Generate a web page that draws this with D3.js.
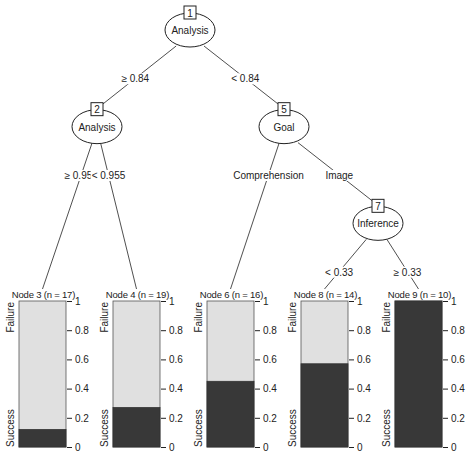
<!DOCTYPE html>
<html><head><meta charset="utf-8">
<script src="https://cdn.jsdelivr.net/npm/d3@7"></script>
<style>body{margin:0;background:#fff}text{font-family:"Liberation Sans",Arial,sans-serif;fill:#222}</style>
</head><body><svg id="c" width="474" height="454"></svg>
<script>
// inner nodes
var innerIds = [1, 2, 5, 7];
var innerVars = ["Analysis", "Analysis", "Goal", "Inference"];
var innerX = [190, 97, 284, 378];
var innerLevel = [0, 1, 1, 2];
// leaves
var leafIds = [3, 4, 6, 8, 9];
var leafN = [17, 19, 16, 14, 10];
var leafSuccess = [0.12, 0.27, 0.45, 0.57, 1.0];
var leafLevel = [2, 2, 2, 3, 3];
// edges: parent id, child id, label
var edgeFrom = [1, 1, 2, 2, 5, 5, 7, 7];
var edgeTo = [2, 5, 3, 4, 6, 7, 8, 9];
var edgeLabels = ["\u2265 0.84", "< 0.84", "\u2265 0.955", "< 0.955", "Comprehension", "Image", "< 0.33", "\u2265 0.33"];
var ticks = [0, 0.2, 0.4, 0.6, 0.8, 1];

var svg = d3.select("#c");
var level = d3.scaleLinear().domain([0, 3]).range([30, 320]);
var leafX0 = d3.scaleLinear().domain([0, 4]).range([19, 395]);
var barW = 47;
var y = d3.scaleLinear().domain([0, 1]).range([447, 301]);

var pos = {};
innerIds.forEach(function(id, i) { pos[id] = {x: innerX[i], y: level(innerLevel[i]), lv: level(innerLevel[i]), leaf: false}; });
leafIds.forEach(function(id, i) { pos[id] = {x: leafX0(i) + barW / 2, y: 289, lv: level(leafLevel[i]), leaf: true}; });

// edges
edgeFrom.forEach(function(f, i) {
  var a = pos[f], b = pos[edgeTo[i]];
  var y1 = a.y + 16, y2 = b.leaf ? b.y : b.y - 18;
  var x1 = a.x + (b.x - a.x) * 16 / (b.y - a.y) * 0.9;
  svg.append("line").attr("x1", x1).attr("y1", y1).attr("x2", b.x).attr("y2", y2)
    .attr("stroke", "#222").attr("stroke-width", 0.8);
  var my = (a.y + b.lv) / 2;
  var mx = x1 + (b.x - x1) * (my - y1) / (y2 - y1);
  var t = svg.append("text").attr("x", mx).attr("y", my + 4).attr("text-anchor", "middle")
    .attr("font-size", 10).text(edgeLabels[i]);
  var bb = t.node().getBBox();
  svg.insert("rect", "text:last-of-type").attr("x", bb.x - 1).attr("y", bb.y).attr("width", bb.width + 2)
    .attr("height", bb.height).attr("fill", "#fff");
  t.raise();
});

// inner nodes
innerIds.forEach(function(id, i) {
  var g = svg.append("g").attr("transform", "translate(" + innerX[i] + "," + level(innerLevel[i]) + ")");
  g.append("ellipse").attr("rx", 25).attr("ry", 17).attr("fill", "#fff").attr("stroke", "#222");
  g.append("text").attr("y", 4).attr("text-anchor", "middle").attr("font-size", 10).text(innerVars[i]);
  g.append("rect").attr("x", -6).attr("y", -24).attr("width", 12).attr("height", 13)
    .attr("fill", "#fff").attr("stroke", "#222");
  g.append("text").attr("y", -13.5).attr("text-anchor", "middle").attr("font-size", 10).text(id);
});

// leaves
leafIds.forEach(function(id, i) {
  var x0 = leafX0(i);
  var g = svg.append("g");
  var t = g.append("text").attr("x", x0 + barW / 2 + 1).attr("y", 298).attr("text-anchor", "middle")
    .attr("font-size", 9.5).attr("letter-spacing", -0.2).text("Node " + id + " (n = " + leafN[i] + ")");
  var bb = t.node().getBBox();
  g.insert("rect", "text").attr("x", bb.x).attr("y", bb.y).attr("width", bb.width).attr("height", bb.height).attr("fill", "#fff");
  g.append("rect").attr("x", x0).attr("y", y(1)).attr("width", barW).attr("height", y(0) - y(1))
    .attr("fill", "#e0e0e0").attr("stroke", "#555").attr("stroke-width", 0.8);
  g.append("rect").attr("x", x0).attr("y", y(leafSuccess[i])).attr("width", barW).attr("height", y(0) - y(leafSuccess[i]))
    .attr("fill", "#383838").attr("stroke", "#333").attr("stroke-width", 0.8);
  var ax = g.append("g").attr("transform", "translate(" + (x0 + barW) + ",0)")
    .call(d3.axisRight(y).tickValues(ticks).tickFormat(d3.format("~g")).tickSize(5).tickPadding(4));
  ax.select(".domain").remove();
  ax.selectAll("line").attr("transform", "translate(1,0)").attr("stroke", "#222");
  ax.selectAll("text").attr("font-size", 10).attr("font-family", "Liberation Sans, Arial, sans-serif").attr("fill", "#222");
  g.append("text").attr("transform", "translate(" + (x0 - 5) + "," + (y(1) + 1) + ") rotate(-90)")
    .attr("text-anchor", "end").attr("font-size", 10).text("Failure");
  g.append("text").attr("transform", "translate(" + (x0 - 5) + "," + y(0) + ") rotate(-90)")
    .attr("text-anchor", "start").attr("font-size", 10).text("Success");
});
</script></body></html>
